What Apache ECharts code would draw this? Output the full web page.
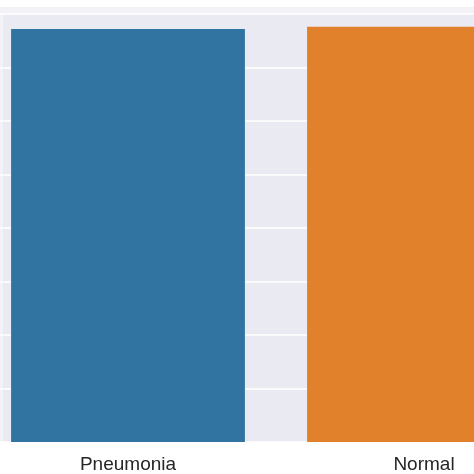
<!DOCTYPE html>
<html>
<head>
<meta charset="utf-8">
<script src="https://cdn.jsdelivr.net/npm/echarts@6/dist/echarts.min.js"></script>
<style>
html,body{margin:0;padding:0;background:#fff;}
#c{width:474px;height:474px;}
</style>
</head>
<body>
<div id="c"></div>
<script>
var categories = ['Pneumonia', 'Normal'];
var counts = [3860, 3880];
var barColors = ['#3274A1', '#E1812C'];
var yTicks = [0, 500, 1000, 1500, 2000, 2500, 3000, 3500, 4000];

var chart = echarts.init(document.getElementById('c'), null, {renderer: 'canvas'});
chart.setOption({
  animation: false,
  backgroundColor: '#ffffff',
  grid: {
    left: -20, top: 14, width: 592, height: 428,
    outerBoundsMode: 'none',
    containLabel: false,
    show: true, backgroundColor: '#EAEAF2', borderWidth: 0
  },
  xAxis: {
    type: 'category',
    data: categories,
    boundaryGap: true,
    axisLine: {show: false},
    axisTick: {show: false},
    axisLabel: {
      show: true, margin: 13, fontFamily: 'Liberation Sans', fontSize: 19,
      color: '#262626'
    },
    splitLine: {show: false}
  },
  yAxis: {
    type: 'value',
    min: yTicks[0], max: yTicks[yTicks.length - 1], interval: yTicks[1] - yTicks[0],
    axisLine: {show: false},
    axisTick: {show: false},
    axisLabel: {show: false},
    splitLine: {show: true, lineStyle: {color: '#ffffff', width: 1.5}}
  },
  series: [{
    type: 'bar',
    barWidth: '79%',
    data: counts.map(function (v, i) {
      return {value: v, itemStyle: {color: barColors[i]}};
    })
  }],
  graphic: [
    {type: 'rect', shape: {x: 0, y: 7, width: 474, height: 7}, style: {fill: '#F2F2F7'}, silent: true},
    {type: 'rect', shape: {x: 0, y: 7, width: 3, height: 435}, style: {fill: '#F3F3F7'}, silent: true}
  ]
});
</script>
</body>
</html>
